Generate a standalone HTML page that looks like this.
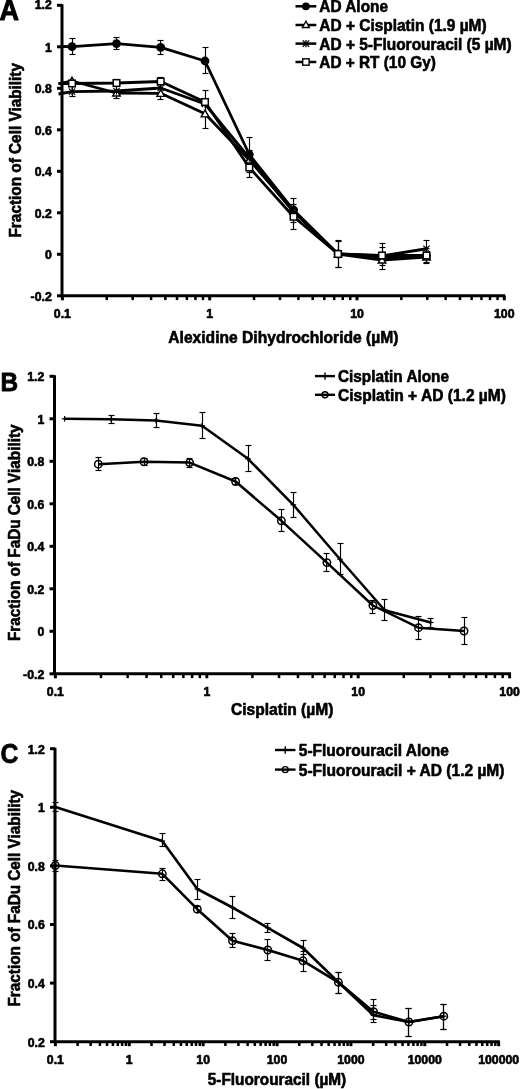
<!DOCTYPE html>
<html lang="en"><head><meta charset="utf-8"><title>Figure</title>
<style>
html,body{margin:0;padding:0;background:#fff;}
body{width:520px;height:1089px;overflow:hidden;}
svg{display:block;}
text{font-family:"Liberation Sans",Arial,Helvetica,sans-serif;font-weight:bold;fill:#000;stroke:#000;stroke-width:0.6px;stroke-linejoin:round;}
</style></head><body>
<svg width="520" height="1089" viewBox="0 0 520 1089">
<rect width="520" height="1089" fill="#fff"/>
<g stroke="#000" fill="none" stroke-linecap="butt">
<line x1="62.00" y1="4.30" x2="62.00" y2="296.80" stroke-width="3.0" />
<line x1="61.00" y1="295.80" x2="505.30" y2="295.80" stroke-width="3.0" />
<line x1="57.00" y1="5.30" x2="62.00" y2="5.30" stroke-width="3.0" />
<line x1="57.00" y1="46.80" x2="62.00" y2="46.80" stroke-width="3.0" />
<line x1="57.00" y1="88.30" x2="62.00" y2="88.30" stroke-width="3.0" />
<line x1="57.00" y1="129.80" x2="62.00" y2="129.80" stroke-width="3.0" />
<line x1="57.00" y1="171.30" x2="62.00" y2="171.30" stroke-width="3.0" />
<line x1="57.00" y1="212.80" x2="62.00" y2="212.80" stroke-width="3.0" />
<line x1="57.00" y1="254.30" x2="62.00" y2="254.30" stroke-width="3.0" />
<line x1="57.00" y1="295.80" x2="62.00" y2="295.80" stroke-width="3.0" />
<line x1="62.40" y1="295.80" x2="62.40" y2="300.30" stroke-width="3.0" />
<line x1="106.74" y1="295.80" x2="106.74" y2="300.10" stroke-width="2.5" />
<line x1="132.68" y1="295.80" x2="132.68" y2="300.10" stroke-width="2.5" />
<line x1="151.08" y1="295.80" x2="151.08" y2="300.10" stroke-width="2.5" />
<line x1="165.36" y1="295.80" x2="165.36" y2="300.10" stroke-width="2.5" />
<line x1="177.02" y1="295.80" x2="177.02" y2="300.10" stroke-width="2.5" />
<line x1="186.88" y1="295.80" x2="186.88" y2="300.10" stroke-width="2.5" />
<line x1="195.43" y1="295.80" x2="195.43" y2="300.10" stroke-width="2.5" />
<line x1="202.96" y1="295.80" x2="202.96" y2="300.10" stroke-width="2.5" />
<line x1="209.70" y1="295.80" x2="209.70" y2="300.30" stroke-width="3.0" />
<line x1="254.04" y1="295.80" x2="254.04" y2="300.10" stroke-width="2.5" />
<line x1="279.98" y1="295.80" x2="279.98" y2="300.10" stroke-width="2.5" />
<line x1="298.38" y1="295.80" x2="298.38" y2="300.10" stroke-width="2.5" />
<line x1="312.66" y1="295.80" x2="312.66" y2="300.10" stroke-width="2.5" />
<line x1="324.32" y1="295.80" x2="324.32" y2="300.10" stroke-width="2.5" />
<line x1="334.18" y1="295.80" x2="334.18" y2="300.10" stroke-width="2.5" />
<line x1="342.73" y1="295.80" x2="342.73" y2="300.10" stroke-width="2.5" />
<line x1="350.26" y1="295.80" x2="350.26" y2="300.10" stroke-width="2.5" />
<line x1="357.00" y1="295.80" x2="357.00" y2="300.30" stroke-width="3.0" />
<line x1="401.34" y1="295.80" x2="401.34" y2="300.10" stroke-width="2.5" />
<line x1="427.28" y1="295.80" x2="427.28" y2="300.10" stroke-width="2.5" />
<line x1="445.68" y1="295.80" x2="445.68" y2="300.10" stroke-width="2.5" />
<line x1="459.96" y1="295.80" x2="459.96" y2="300.10" stroke-width="2.5" />
<line x1="471.62" y1="295.80" x2="471.62" y2="300.10" stroke-width="2.5" />
<line x1="481.48" y1="295.80" x2="481.48" y2="300.10" stroke-width="2.5" />
<line x1="490.03" y1="295.80" x2="490.03" y2="300.10" stroke-width="2.5" />
<line x1="497.56" y1="295.80" x2="497.56" y2="300.10" stroke-width="2.5" />
<line x1="504.30" y1="295.80" x2="504.30" y2="300.30" stroke-width="3.0" />
<line x1="72.50" y1="38.50" x2="72.50" y2="54.50" stroke-width="1.15" />
<line x1="69.50" y1="38.50" x2="75.50" y2="38.50" stroke-width="1.15" />
<line x1="69.50" y1="54.50" x2="75.50" y2="54.50" stroke-width="1.15" />
<line x1="116.50" y1="37.50" x2="116.50" y2="49.50" stroke-width="1.15" />
<line x1="113.50" y1="37.50" x2="119.50" y2="37.50" stroke-width="1.15" />
<line x1="113.50" y1="49.50" x2="119.50" y2="49.50" stroke-width="1.15" />
<line x1="160.50" y1="40.50" x2="160.50" y2="54.50" stroke-width="1.15" />
<line x1="157.50" y1="40.50" x2="163.50" y2="40.50" stroke-width="1.15" />
<line x1="157.50" y1="54.50" x2="163.50" y2="54.50" stroke-width="1.15" />
<line x1="205.50" y1="47.50" x2="205.50" y2="73.50" stroke-width="1.15" />
<line x1="202.50" y1="47.50" x2="208.50" y2="47.50" stroke-width="1.15" />
<line x1="202.50" y1="73.50" x2="208.50" y2="73.50" stroke-width="1.15" />
<line x1="249.50" y1="137.50" x2="249.50" y2="172.50" stroke-width="1.15" />
<line x1="246.50" y1="137.50" x2="252.50" y2="137.50" stroke-width="1.15" />
<line x1="246.50" y1="172.50" x2="252.50" y2="172.50" stroke-width="1.15" />
<line x1="293.50" y1="198.50" x2="293.50" y2="222.50" stroke-width="1.15" />
<line x1="290.50" y1="198.50" x2="296.50" y2="198.50" stroke-width="1.15" />
<line x1="290.50" y1="222.50" x2="296.50" y2="222.50" stroke-width="1.15" />
<line x1="338.50" y1="241.50" x2="338.50" y2="267.50" stroke-width="1.15" />
<line x1="335.50" y1="241.50" x2="341.50" y2="241.50" stroke-width="1.15" />
<line x1="335.50" y1="267.50" x2="341.50" y2="267.50" stroke-width="1.15" />
<line x1="382.50" y1="247.50" x2="382.50" y2="265.50" stroke-width="1.15" />
<line x1="379.50" y1="247.50" x2="385.50" y2="247.50" stroke-width="1.15" />
<line x1="379.50" y1="265.50" x2="385.50" y2="265.50" stroke-width="1.15" />
<line x1="426.50" y1="248.50" x2="426.50" y2="263.50" stroke-width="1.15" />
<line x1="423.50" y1="248.50" x2="429.50" y2="248.50" stroke-width="1.15" />
<line x1="423.50" y1="263.50" x2="429.50" y2="263.50" stroke-width="1.15" />
<line x1="72.50" y1="80.50" x2="72.50" y2="96.50" stroke-width="1.15" />
<line x1="69.50" y1="80.50" x2="75.50" y2="80.50" stroke-width="1.15" />
<line x1="69.50" y1="96.50" x2="75.50" y2="96.50" stroke-width="1.15" />
<line x1="116.50" y1="79.50" x2="116.50" y2="98.50" stroke-width="1.15" />
<line x1="113.50" y1="79.50" x2="119.50" y2="79.50" stroke-width="1.15" />
<line x1="113.50" y1="98.50" x2="119.50" y2="98.50" stroke-width="1.15" />
<line x1="160.50" y1="77.50" x2="160.50" y2="99.50" stroke-width="1.15" />
<line x1="157.50" y1="77.50" x2="163.50" y2="77.50" stroke-width="1.15" />
<line x1="157.50" y1="99.50" x2="163.50" y2="99.50" stroke-width="1.15" />
<line x1="205.50" y1="90.50" x2="205.50" y2="128.50" stroke-width="1.15" />
<line x1="202.50" y1="90.50" x2="208.50" y2="90.50" stroke-width="1.15" />
<line x1="202.50" y1="128.50" x2="208.50" y2="128.50" stroke-width="1.15" />
<line x1="249.50" y1="150.50" x2="249.50" y2="177.50" stroke-width="1.15" />
<line x1="246.50" y1="150.50" x2="252.50" y2="150.50" stroke-width="1.15" />
<line x1="246.50" y1="177.50" x2="252.50" y2="177.50" stroke-width="1.15" />
<line x1="293.50" y1="204.50" x2="293.50" y2="229.50" stroke-width="1.15" />
<line x1="290.50" y1="204.50" x2="296.50" y2="204.50" stroke-width="1.15" />
<line x1="290.50" y1="229.50" x2="296.50" y2="229.50" stroke-width="1.15" />
<line x1="338.50" y1="240.50" x2="338.50" y2="267.50" stroke-width="1.15" />
<line x1="335.50" y1="240.50" x2="341.50" y2="240.50" stroke-width="1.15" />
<line x1="335.50" y1="267.50" x2="341.50" y2="267.50" stroke-width="1.15" />
<line x1="382.50" y1="243.50" x2="382.50" y2="269.50" stroke-width="1.15" />
<line x1="379.50" y1="243.50" x2="385.50" y2="243.50" stroke-width="1.15" />
<line x1="379.50" y1="269.50" x2="385.50" y2="269.50" stroke-width="1.15" />
<line x1="426.50" y1="240.50" x2="426.50" y2="262.50" stroke-width="1.15" />
<line x1="423.50" y1="240.50" x2="429.50" y2="240.50" stroke-width="1.15" />
<line x1="423.50" y1="262.50" x2="429.50" y2="262.50" stroke-width="1.15" />
<polyline fill="none" stroke-linejoin="round" stroke-width="2.8" points="62.00,46.50 72.00,46.70 116.50,43.60 160.70,47.40 205.00,61.00 249.30,154.50 293.60,210.00 338.00,254.00 382.00,257.00 426.50,256.00"/>
<circle cx="72.00" cy="46.70" r="4.4" fill="#000" stroke="none"/>
<circle cx="116.50" cy="43.60" r="4.4" fill="#000" stroke="none"/>
<circle cx="160.70" cy="47.40" r="4.4" fill="#000" stroke="none"/>
<circle cx="205.00" cy="61.00" r="4.4" fill="#000" stroke="none"/>
<circle cx="249.30" cy="154.50" r="4.4" fill="#000" stroke="none"/>
<circle cx="293.60" cy="210.00" r="4.4" fill="#000" stroke="none"/>
<circle cx="338.00" cy="254.00" r="4.4" fill="#000" stroke="none"/>
<circle cx="382.00" cy="257.00" r="4.4" fill="#000" stroke="none"/>
<circle cx="426.50" cy="256.00" r="4.4" fill="#000" stroke="none"/>
<polyline fill="none" stroke-linejoin="round" stroke-width="2.8" points="58.50,83.70 72.00,81.00 116.50,93.00 160.70,93.30 205.00,113.80 249.30,160.00 293.60,211.00 338.00,254.00 382.00,260.00 426.50,257.00"/>
<polygon points="72.00,77.20 68.20,84.04 75.80,84.04" fill="#fff" stroke-width="1.4"/>
<polygon points="116.50,89.20 112.70,96.04 120.30,96.04" fill="#fff" stroke-width="1.4"/>
<polygon points="160.70,89.50 156.90,96.34 164.50,96.34" fill="#fff" stroke-width="1.4"/>
<polygon points="205.00,110.00 201.20,116.84 208.80,116.84" fill="#fff" stroke-width="1.4"/>
<polygon points="249.30,156.20 245.50,163.04 253.10,163.04" fill="#fff" stroke-width="1.4"/>
<polygon points="293.60,207.20 289.80,214.04 297.40,214.04" fill="#fff" stroke-width="1.4"/>
<polygon points="338.00,250.20 334.20,257.04 341.80,257.04" fill="#fff" stroke-width="1.4"/>
<polygon points="382.00,256.20 378.20,263.04 385.80,263.04" fill="#fff" stroke-width="1.4"/>
<polygon points="426.50,253.20 422.70,260.04 430.30,260.04" fill="#fff" stroke-width="1.4"/>
<polyline fill="none" stroke-linejoin="round" stroke-width="2.8" points="58.50,94.00 72.00,91.60 116.50,91.00 160.70,88.00 205.00,104.00 249.30,158.00 293.60,212.00 338.00,254.00 382.00,256.00 426.50,248.75"/>
<line x1="68.80" y1="88.40" x2="75.20" y2="94.80" stroke-width="1.1" />
<line x1="68.80" y1="94.80" x2="75.20" y2="88.40" stroke-width="1.1" />
<line x1="72.00" y1="87.90" x2="72.00" y2="95.30" stroke-width="1.1" />
<line x1="113.30" y1="87.80" x2="119.70" y2="94.20" stroke-width="1.1" />
<line x1="113.30" y1="94.20" x2="119.70" y2="87.80" stroke-width="1.1" />
<line x1="116.50" y1="87.30" x2="116.50" y2="94.70" stroke-width="1.1" />
<line x1="157.50" y1="84.80" x2="163.90" y2="91.20" stroke-width="1.1" />
<line x1="157.50" y1="91.20" x2="163.90" y2="84.80" stroke-width="1.1" />
<line x1="160.70" y1="84.30" x2="160.70" y2="91.70" stroke-width="1.1" />
<line x1="201.80" y1="100.80" x2="208.20" y2="107.20" stroke-width="1.1" />
<line x1="201.80" y1="107.20" x2="208.20" y2="100.80" stroke-width="1.1" />
<line x1="205.00" y1="100.30" x2="205.00" y2="107.70" stroke-width="1.1" />
<line x1="246.10" y1="154.80" x2="252.50" y2="161.20" stroke-width="1.1" />
<line x1="246.10" y1="161.20" x2="252.50" y2="154.80" stroke-width="1.1" />
<line x1="249.30" y1="154.30" x2="249.30" y2="161.70" stroke-width="1.1" />
<line x1="290.40" y1="208.80" x2="296.80" y2="215.20" stroke-width="1.1" />
<line x1="290.40" y1="215.20" x2="296.80" y2="208.80" stroke-width="1.1" />
<line x1="293.60" y1="208.30" x2="293.60" y2="215.70" stroke-width="1.1" />
<line x1="334.80" y1="250.80" x2="341.20" y2="257.20" stroke-width="1.1" />
<line x1="334.80" y1="257.20" x2="341.20" y2="250.80" stroke-width="1.1" />
<line x1="338.00" y1="250.30" x2="338.00" y2="257.70" stroke-width="1.1" />
<line x1="378.80" y1="252.80" x2="385.20" y2="259.20" stroke-width="1.1" />
<line x1="378.80" y1="259.20" x2="385.20" y2="252.80" stroke-width="1.1" />
<line x1="382.00" y1="252.30" x2="382.00" y2="259.70" stroke-width="1.1" />
<line x1="423.30" y1="245.55" x2="429.70" y2="251.95" stroke-width="1.1" />
<line x1="423.30" y1="251.95" x2="429.70" y2="245.55" stroke-width="1.1" />
<line x1="426.50" y1="245.05" x2="426.50" y2="252.45" stroke-width="1.1" />
<polyline fill="none" stroke-linejoin="round" stroke-width="2.8" points="58.50,83.70 72.00,83.50 116.50,83.00 160.70,81.50 205.00,102.00 249.30,167.50 293.60,216.75 338.00,254.00 382.00,255.50 426.50,255.50"/>
<rect x="68.70" y="80.20" width="6.6" height="6.6" fill="#fff" stroke-width="1.5"/>
<rect x="113.20" y="79.70" width="6.6" height="6.6" fill="#fff" stroke-width="1.5"/>
<rect x="157.40" y="78.20" width="6.6" height="6.6" fill="#fff" stroke-width="1.5"/>
<rect x="201.70" y="98.70" width="6.6" height="6.6" fill="#fff" stroke-width="1.5"/>
<rect x="246.00" y="164.20" width="6.6" height="6.6" fill="#fff" stroke-width="1.5"/>
<rect x="290.30" y="213.45" width="6.6" height="6.6" fill="#fff" stroke-width="1.5"/>
<rect x="334.70" y="250.70" width="6.6" height="6.6" fill="#fff" stroke-width="1.5"/>
<rect x="378.70" y="252.20" width="6.6" height="6.6" fill="#fff" stroke-width="1.5"/>
<rect x="423.20" y="252.20" width="6.6" height="6.6" fill="#fff" stroke-width="1.5"/>
<line x1="295.50" y1="6.30" x2="316.30" y2="6.30" stroke-width="2.5" />
<line x1="295.50" y1="25.00" x2="316.30" y2="25.00" stroke-width="2.5" />
<line x1="295.50" y1="43.60" x2="316.30" y2="43.60" stroke-width="2.5" />
<line x1="295.50" y1="62.00" x2="316.30" y2="62.00" stroke-width="2.5" />
<circle cx="305.90" cy="6.30" r="3.9" fill="#000" stroke="none"/>
<polygon points="305.90,21.20 302.40,27.50 309.40,27.50" fill="#fff" stroke-width="1.3"/>
<line x1="302.70" y1="40.40" x2="309.10" y2="46.80" stroke-width="1.3" />
<line x1="302.70" y1="46.80" x2="309.10" y2="40.40" stroke-width="1.3" />
<line x1="305.90" y1="39.90" x2="305.90" y2="47.30" stroke-width="1.3" />
<rect x="302.70" y="58.80" width="6.4" height="6.4" fill="#fff" stroke-width="1.4"/>
<line x1="54.50" y1="375.30" x2="54.50" y2="674.80" stroke-width="3.0" />
<line x1="53.50" y1="673.80" x2="511.00" y2="673.80" stroke-width="3.0" />
<line x1="49.50" y1="376.30" x2="54.50" y2="376.30" stroke-width="3.0" />
<line x1="49.50" y1="418.80" x2="54.50" y2="418.80" stroke-width="3.0" />
<line x1="49.50" y1="461.30" x2="54.50" y2="461.30" stroke-width="3.0" />
<line x1="49.50" y1="503.80" x2="54.50" y2="503.80" stroke-width="3.0" />
<line x1="49.50" y1="546.30" x2="54.50" y2="546.30" stroke-width="3.0" />
<line x1="49.50" y1="588.80" x2="54.50" y2="588.80" stroke-width="3.0" />
<line x1="49.50" y1="631.30" x2="54.50" y2="631.30" stroke-width="3.0" />
<line x1="49.50" y1="673.80" x2="54.50" y2="673.80" stroke-width="3.0" />
<line x1="55.40" y1="673.80" x2="55.40" y2="678.30" stroke-width="3.0" />
<line x1="100.98" y1="673.80" x2="100.98" y2="678.10" stroke-width="2.5" />
<line x1="127.64" y1="673.80" x2="127.64" y2="678.10" stroke-width="2.5" />
<line x1="146.55" y1="673.80" x2="146.55" y2="678.10" stroke-width="2.5" />
<line x1="161.22" y1="673.80" x2="161.22" y2="678.10" stroke-width="2.5" />
<line x1="173.21" y1="673.80" x2="173.21" y2="678.10" stroke-width="2.5" />
<line x1="183.35" y1="673.80" x2="183.35" y2="678.10" stroke-width="2.5" />
<line x1="192.13" y1="673.80" x2="192.13" y2="678.10" stroke-width="2.5" />
<line x1="199.87" y1="673.80" x2="199.87" y2="678.10" stroke-width="2.5" />
<line x1="206.80" y1="673.80" x2="206.80" y2="678.30" stroke-width="3.0" />
<line x1="252.38" y1="673.80" x2="252.38" y2="678.10" stroke-width="2.5" />
<line x1="279.04" y1="673.80" x2="279.04" y2="678.10" stroke-width="2.5" />
<line x1="297.95" y1="673.80" x2="297.95" y2="678.10" stroke-width="2.5" />
<line x1="312.62" y1="673.80" x2="312.62" y2="678.10" stroke-width="2.5" />
<line x1="324.61" y1="673.80" x2="324.61" y2="678.10" stroke-width="2.5" />
<line x1="334.75" y1="673.80" x2="334.75" y2="678.10" stroke-width="2.5" />
<line x1="343.53" y1="673.80" x2="343.53" y2="678.10" stroke-width="2.5" />
<line x1="351.27" y1="673.80" x2="351.27" y2="678.10" stroke-width="2.5" />
<line x1="358.20" y1="673.80" x2="358.20" y2="678.30" stroke-width="3.0" />
<line x1="403.78" y1="673.80" x2="403.78" y2="678.10" stroke-width="2.5" />
<line x1="430.44" y1="673.80" x2="430.44" y2="678.10" stroke-width="2.5" />
<line x1="449.35" y1="673.80" x2="449.35" y2="678.10" stroke-width="2.5" />
<line x1="464.02" y1="673.80" x2="464.02" y2="678.10" stroke-width="2.5" />
<line x1="476.01" y1="673.80" x2="476.01" y2="678.10" stroke-width="2.5" />
<line x1="486.15" y1="673.80" x2="486.15" y2="678.10" stroke-width="2.5" />
<line x1="494.93" y1="673.80" x2="494.93" y2="678.10" stroke-width="2.5" />
<line x1="502.67" y1="673.80" x2="502.67" y2="678.10" stroke-width="2.5" />
<line x1="509.60" y1="673.80" x2="509.60" y2="678.30" stroke-width="3.0" />
<line x1="111.50" y1="415.50" x2="111.50" y2="423.50" stroke-width="1.15" />
<line x1="108.50" y1="415.50" x2="114.50" y2="415.50" stroke-width="1.15" />
<line x1="108.50" y1="423.50" x2="114.50" y2="423.50" stroke-width="1.15" />
<line x1="156.50" y1="413.50" x2="156.50" y2="427.50" stroke-width="1.15" />
<line x1="153.50" y1="413.50" x2="159.50" y2="413.50" stroke-width="1.15" />
<line x1="153.50" y1="427.50" x2="159.50" y2="427.50" stroke-width="1.15" />
<line x1="202.50" y1="412.50" x2="202.50" y2="438.50" stroke-width="1.15" />
<line x1="199.50" y1="412.50" x2="205.50" y2="412.50" stroke-width="1.15" />
<line x1="199.50" y1="438.50" x2="205.50" y2="438.50" stroke-width="1.15" />
<line x1="248.50" y1="445.50" x2="248.50" y2="471.50" stroke-width="1.15" />
<line x1="245.50" y1="445.50" x2="251.50" y2="445.50" stroke-width="1.15" />
<line x1="245.50" y1="471.50" x2="251.50" y2="471.50" stroke-width="1.15" />
<line x1="293.50" y1="492.50" x2="293.50" y2="517.50" stroke-width="1.15" />
<line x1="290.50" y1="492.50" x2="296.50" y2="492.50" stroke-width="1.15" />
<line x1="290.50" y1="517.50" x2="296.50" y2="517.50" stroke-width="1.15" />
<line x1="340.50" y1="543.50" x2="340.50" y2="574.50" stroke-width="1.15" />
<line x1="337.50" y1="543.50" x2="343.50" y2="543.50" stroke-width="1.15" />
<line x1="337.50" y1="574.50" x2="343.50" y2="574.50" stroke-width="1.15" />
<line x1="384.50" y1="599.50" x2="384.50" y2="620.50" stroke-width="1.15" />
<line x1="381.50" y1="599.50" x2="387.50" y2="599.50" stroke-width="1.15" />
<line x1="381.50" y1="620.50" x2="387.50" y2="620.50" stroke-width="1.15" />
<line x1="430.50" y1="618.50" x2="430.50" y2="627.50" stroke-width="1.15" />
<line x1="427.50" y1="618.50" x2="433.50" y2="618.50" stroke-width="1.15" />
<line x1="427.50" y1="627.50" x2="433.50" y2="627.50" stroke-width="1.15" />
<line x1="98.50" y1="457.50" x2="98.50" y2="470.50" stroke-width="1.15" />
<line x1="95.50" y1="457.50" x2="101.50" y2="457.50" stroke-width="1.15" />
<line x1="95.50" y1="470.50" x2="101.50" y2="470.50" stroke-width="1.15" />
<line x1="144.50" y1="458.50" x2="144.50" y2="465.50" stroke-width="1.15" />
<line x1="141.50" y1="458.50" x2="147.50" y2="458.50" stroke-width="1.15" />
<line x1="141.50" y1="465.50" x2="147.50" y2="465.50" stroke-width="1.15" />
<line x1="189.50" y1="458.50" x2="189.50" y2="467.50" stroke-width="1.15" />
<line x1="186.50" y1="458.50" x2="192.50" y2="458.50" stroke-width="1.15" />
<line x1="186.50" y1="467.50" x2="192.50" y2="467.50" stroke-width="1.15" />
<line x1="235.50" y1="478.50" x2="235.50" y2="484.50" stroke-width="1.15" />
<line x1="232.50" y1="478.50" x2="238.50" y2="478.50" stroke-width="1.15" />
<line x1="232.50" y1="484.50" x2="238.50" y2="484.50" stroke-width="1.15" />
<line x1="281.50" y1="509.50" x2="281.50" y2="531.50" stroke-width="1.15" />
<line x1="278.50" y1="509.50" x2="284.50" y2="509.50" stroke-width="1.15" />
<line x1="278.50" y1="531.50" x2="284.50" y2="531.50" stroke-width="1.15" />
<line x1="326.50" y1="553.50" x2="326.50" y2="571.50" stroke-width="1.15" />
<line x1="323.50" y1="553.50" x2="329.50" y2="553.50" stroke-width="1.15" />
<line x1="323.50" y1="571.50" x2="329.50" y2="571.50" stroke-width="1.15" />
<line x1="372.50" y1="600.50" x2="372.50" y2="613.50" stroke-width="1.15" />
<line x1="369.50" y1="600.50" x2="375.50" y2="600.50" stroke-width="1.15" />
<line x1="369.50" y1="613.50" x2="375.50" y2="613.50" stroke-width="1.15" />
<line x1="418.50" y1="616.50" x2="418.50" y2="639.50" stroke-width="1.15" />
<line x1="415.50" y1="616.50" x2="421.50" y2="616.50" stroke-width="1.15" />
<line x1="415.50" y1="639.50" x2="421.50" y2="639.50" stroke-width="1.15" />
<line x1="464.50" y1="617.50" x2="464.50" y2="644.50" stroke-width="1.15" />
<line x1="461.50" y1="617.50" x2="467.50" y2="617.50" stroke-width="1.15" />
<line x1="461.50" y1="644.50" x2="467.50" y2="644.50" stroke-width="1.15" />
<polyline fill="none" stroke-linejoin="round" stroke-width="2.5" points="64.60,418.80 111.00,419.20 156.00,420.50 202.00,425.70 248.00,458.80 293.30,504.80 340.00,559.20 384.70,610.20 430.80,622.50"/>
<polyline fill="none" stroke-linejoin="round" stroke-width="2.5" points="98.30,464.20 144.00,461.70 189.60,462.60 235.60,481.50 281.40,520.80 326.90,562.60 372.90,605.50 418.50,627.70 464.00,631.00"/>
<line x1="64.60" y1="416.00" x2="64.60" y2="421.60" stroke-width="1.2" />
<line x1="61.80" y1="418.80" x2="67.40" y2="418.80" stroke-width="1.2" />
<line x1="111.00" y1="416.40" x2="111.00" y2="422.00" stroke-width="1.2" />
<line x1="108.20" y1="419.20" x2="113.80" y2="419.20" stroke-width="1.2" />
<line x1="156.00" y1="417.70" x2="156.00" y2="423.30" stroke-width="1.2" />
<line x1="153.20" y1="420.50" x2="158.80" y2="420.50" stroke-width="1.2" />
<line x1="202.00" y1="422.90" x2="202.00" y2="428.50" stroke-width="1.2" />
<line x1="199.20" y1="425.70" x2="204.80" y2="425.70" stroke-width="1.2" />
<line x1="248.00" y1="456.00" x2="248.00" y2="461.60" stroke-width="1.2" />
<line x1="245.20" y1="458.80" x2="250.80" y2="458.80" stroke-width="1.2" />
<line x1="293.30" y1="502.00" x2="293.30" y2="507.60" stroke-width="1.2" />
<line x1="290.50" y1="504.80" x2="296.10" y2="504.80" stroke-width="1.2" />
<line x1="340.00" y1="556.40" x2="340.00" y2="562.00" stroke-width="1.2" />
<line x1="337.20" y1="559.20" x2="342.80" y2="559.20" stroke-width="1.2" />
<line x1="384.70" y1="607.40" x2="384.70" y2="613.00" stroke-width="1.2" />
<line x1="381.90" y1="610.20" x2="387.50" y2="610.20" stroke-width="1.2" />
<line x1="430.80" y1="619.70" x2="430.80" y2="625.30" stroke-width="1.2" />
<line x1="428.00" y1="622.50" x2="433.60" y2="622.50" stroke-width="1.2" />
<circle cx="98.30" cy="464.20" r="3.7" fill="none" stroke-width="1.5"/>
<circle cx="144.00" cy="461.70" r="3.7" fill="none" stroke-width="1.5"/>
<circle cx="189.60" cy="462.60" r="3.7" fill="none" stroke-width="1.5"/>
<circle cx="235.60" cy="481.50" r="3.7" fill="none" stroke-width="1.5"/>
<circle cx="281.40" cy="520.80" r="3.7" fill="none" stroke-width="1.5"/>
<circle cx="326.90" cy="562.60" r="3.7" fill="none" stroke-width="1.5"/>
<circle cx="372.90" cy="605.50" r="3.7" fill="none" stroke-width="1.5"/>
<circle cx="418.50" cy="627.70" r="3.7" fill="none" stroke-width="1.5"/>
<circle cx="464.00" cy="631.00" r="3.7" fill="none" stroke-width="1.5"/>
<line x1="315.00" y1="376.10" x2="335.00" y2="376.10" stroke-width="2.4" />
<line x1="315.00" y1="394.80" x2="335.00" y2="394.80" stroke-width="2.4" />
<line x1="325.00" y1="372.40" x2="325.00" y2="379.80" stroke-width="1.4" />
<line x1="321.30" y1="376.10" x2="328.70" y2="376.10" stroke-width="1.4" />
<circle cx="325.00" cy="394.80" r="3.0" fill="none" stroke-width="1.4"/>
<line x1="55.00" y1="747.70" x2="55.00" y2="1042.70" stroke-width="3.0" />
<line x1="54.00" y1="1041.70" x2="499.80" y2="1041.70" stroke-width="3.0" />
<line x1="50.00" y1="748.70" x2="55.00" y2="748.70" stroke-width="3.0" />
<line x1="50.00" y1="807.30" x2="55.00" y2="807.30" stroke-width="3.0" />
<line x1="50.00" y1="865.90" x2="55.00" y2="865.90" stroke-width="3.0" />
<line x1="50.00" y1="924.50" x2="55.00" y2="924.50" stroke-width="3.0" />
<line x1="50.00" y1="983.10" x2="55.00" y2="983.10" stroke-width="3.0" />
<line x1="50.00" y1="1041.70" x2="55.00" y2="1041.70" stroke-width="3.0" />
<line x1="55.40" y1="1041.70" x2="55.40" y2="1046.20" stroke-width="3.0" />
<line x1="77.64" y1="1041.70" x2="77.64" y2="1046.00" stroke-width="2.5" />
<line x1="90.65" y1="1041.70" x2="90.65" y2="1046.00" stroke-width="2.5" />
<line x1="99.88" y1="1041.70" x2="99.88" y2="1046.00" stroke-width="2.5" />
<line x1="107.04" y1="1041.70" x2="107.04" y2="1046.00" stroke-width="2.5" />
<line x1="112.89" y1="1041.70" x2="112.89" y2="1046.00" stroke-width="2.5" />
<line x1="117.84" y1="1041.70" x2="117.84" y2="1046.00" stroke-width="2.5" />
<line x1="122.12" y1="1041.70" x2="122.12" y2="1046.00" stroke-width="2.5" />
<line x1="125.90" y1="1041.70" x2="125.90" y2="1046.00" stroke-width="2.5" />
<line x1="129.28" y1="1041.70" x2="129.28" y2="1046.20" stroke-width="3.0" />
<line x1="151.52" y1="1041.70" x2="151.52" y2="1046.00" stroke-width="2.5" />
<line x1="164.53" y1="1041.70" x2="164.53" y2="1046.00" stroke-width="2.5" />
<line x1="173.76" y1="1041.70" x2="173.76" y2="1046.00" stroke-width="2.5" />
<line x1="180.92" y1="1041.70" x2="180.92" y2="1046.00" stroke-width="2.5" />
<line x1="186.77" y1="1041.70" x2="186.77" y2="1046.00" stroke-width="2.5" />
<line x1="191.72" y1="1041.70" x2="191.72" y2="1046.00" stroke-width="2.5" />
<line x1="196.00" y1="1041.70" x2="196.00" y2="1046.00" stroke-width="2.5" />
<line x1="199.78" y1="1041.70" x2="199.78" y2="1046.00" stroke-width="2.5" />
<line x1="203.16" y1="1041.70" x2="203.16" y2="1046.20" stroke-width="3.0" />
<line x1="225.40" y1="1041.70" x2="225.40" y2="1046.00" stroke-width="2.5" />
<line x1="238.41" y1="1041.70" x2="238.41" y2="1046.00" stroke-width="2.5" />
<line x1="247.64" y1="1041.70" x2="247.64" y2="1046.00" stroke-width="2.5" />
<line x1="254.80" y1="1041.70" x2="254.80" y2="1046.00" stroke-width="2.5" />
<line x1="260.65" y1="1041.70" x2="260.65" y2="1046.00" stroke-width="2.5" />
<line x1="265.60" y1="1041.70" x2="265.60" y2="1046.00" stroke-width="2.5" />
<line x1="269.88" y1="1041.70" x2="269.88" y2="1046.00" stroke-width="2.5" />
<line x1="273.66" y1="1041.70" x2="273.66" y2="1046.00" stroke-width="2.5" />
<line x1="277.04" y1="1041.70" x2="277.04" y2="1046.20" stroke-width="3.0" />
<line x1="299.28" y1="1041.70" x2="299.28" y2="1046.00" stroke-width="2.5" />
<line x1="312.29" y1="1041.70" x2="312.29" y2="1046.00" stroke-width="2.5" />
<line x1="321.52" y1="1041.70" x2="321.52" y2="1046.00" stroke-width="2.5" />
<line x1="328.68" y1="1041.70" x2="328.68" y2="1046.00" stroke-width="2.5" />
<line x1="334.53" y1="1041.70" x2="334.53" y2="1046.00" stroke-width="2.5" />
<line x1="339.48" y1="1041.70" x2="339.48" y2="1046.00" stroke-width="2.5" />
<line x1="343.76" y1="1041.70" x2="343.76" y2="1046.00" stroke-width="2.5" />
<line x1="347.54" y1="1041.70" x2="347.54" y2="1046.00" stroke-width="2.5" />
<line x1="350.92" y1="1041.70" x2="350.92" y2="1046.20" stroke-width="3.0" />
<line x1="373.16" y1="1041.70" x2="373.16" y2="1046.00" stroke-width="2.5" />
<line x1="386.17" y1="1041.70" x2="386.17" y2="1046.00" stroke-width="2.5" />
<line x1="395.40" y1="1041.70" x2="395.40" y2="1046.00" stroke-width="2.5" />
<line x1="402.56" y1="1041.70" x2="402.56" y2="1046.00" stroke-width="2.5" />
<line x1="408.41" y1="1041.70" x2="408.41" y2="1046.00" stroke-width="2.5" />
<line x1="413.36" y1="1041.70" x2="413.36" y2="1046.00" stroke-width="2.5" />
<line x1="417.64" y1="1041.70" x2="417.64" y2="1046.00" stroke-width="2.5" />
<line x1="421.42" y1="1041.70" x2="421.42" y2="1046.00" stroke-width="2.5" />
<line x1="424.80" y1="1041.70" x2="424.80" y2="1046.20" stroke-width="3.0" />
<line x1="447.04" y1="1041.70" x2="447.04" y2="1046.00" stroke-width="2.5" />
<line x1="460.05" y1="1041.70" x2="460.05" y2="1046.00" stroke-width="2.5" />
<line x1="469.28" y1="1041.70" x2="469.28" y2="1046.00" stroke-width="2.5" />
<line x1="476.44" y1="1041.70" x2="476.44" y2="1046.00" stroke-width="2.5" />
<line x1="482.29" y1="1041.70" x2="482.29" y2="1046.00" stroke-width="2.5" />
<line x1="487.24" y1="1041.70" x2="487.24" y2="1046.00" stroke-width="2.5" />
<line x1="491.52" y1="1041.70" x2="491.52" y2="1046.00" stroke-width="2.5" />
<line x1="495.30" y1="1041.70" x2="495.30" y2="1046.00" stroke-width="2.5" />
<line x1="498.68" y1="1041.70" x2="498.68" y2="1046.20" stroke-width="3.0" />
<line x1="55.50" y1="802.50" x2="55.50" y2="811.50" stroke-width="1.15" />
<line x1="52.50" y1="802.50" x2="58.50" y2="802.50" stroke-width="1.15" />
<line x1="52.50" y1="811.50" x2="58.50" y2="811.50" stroke-width="1.15" />
<line x1="162.50" y1="833.50" x2="162.50" y2="846.50" stroke-width="1.15" />
<line x1="159.50" y1="833.50" x2="165.50" y2="833.50" stroke-width="1.15" />
<line x1="159.50" y1="846.50" x2="165.50" y2="846.50" stroke-width="1.15" />
<line x1="197.50" y1="879.50" x2="197.50" y2="899.50" stroke-width="1.15" />
<line x1="194.50" y1="879.50" x2="200.50" y2="879.50" stroke-width="1.15" />
<line x1="194.50" y1="899.50" x2="200.50" y2="899.50" stroke-width="1.15" />
<line x1="232.50" y1="896.50" x2="232.50" y2="918.50" stroke-width="1.15" />
<line x1="229.50" y1="896.50" x2="235.50" y2="896.50" stroke-width="1.15" />
<line x1="229.50" y1="918.50" x2="235.50" y2="918.50" stroke-width="1.15" />
<line x1="267.50" y1="923.50" x2="267.50" y2="932.50" stroke-width="1.15" />
<line x1="264.50" y1="923.50" x2="270.50" y2="923.50" stroke-width="1.15" />
<line x1="264.50" y1="932.50" x2="270.50" y2="932.50" stroke-width="1.15" />
<line x1="303.50" y1="940.50" x2="303.50" y2="954.50" stroke-width="1.15" />
<line x1="300.50" y1="940.50" x2="306.50" y2="940.50" stroke-width="1.15" />
<line x1="300.50" y1="954.50" x2="306.50" y2="954.50" stroke-width="1.15" />
<line x1="338.50" y1="972.50" x2="338.50" y2="993.50" stroke-width="1.15" />
<line x1="335.50" y1="972.50" x2="341.50" y2="972.50" stroke-width="1.15" />
<line x1="335.50" y1="993.50" x2="341.50" y2="993.50" stroke-width="1.15" />
<line x1="373.50" y1="1005.50" x2="373.50" y2="1022.50" stroke-width="1.15" />
<line x1="370.50" y1="1005.50" x2="376.50" y2="1005.50" stroke-width="1.15" />
<line x1="370.50" y1="1022.50" x2="376.50" y2="1022.50" stroke-width="1.15" />
<line x1="408.50" y1="1008.50" x2="408.50" y2="1036.50" stroke-width="1.15" />
<line x1="405.50" y1="1008.50" x2="411.50" y2="1008.50" stroke-width="1.15" />
<line x1="405.50" y1="1036.50" x2="411.50" y2="1036.50" stroke-width="1.15" />
<line x1="443.50" y1="1004.50" x2="443.50" y2="1029.50" stroke-width="1.15" />
<line x1="440.50" y1="1004.50" x2="446.50" y2="1004.50" stroke-width="1.15" />
<line x1="440.50" y1="1029.50" x2="446.50" y2="1029.50" stroke-width="1.15" />
<line x1="55.50" y1="860.50" x2="55.50" y2="871.50" stroke-width="1.15" />
<line x1="52.50" y1="860.50" x2="58.50" y2="860.50" stroke-width="1.15" />
<line x1="52.50" y1="871.50" x2="58.50" y2="871.50" stroke-width="1.15" />
<line x1="162.50" y1="868.50" x2="162.50" y2="880.50" stroke-width="1.15" />
<line x1="159.50" y1="868.50" x2="165.50" y2="868.50" stroke-width="1.15" />
<line x1="159.50" y1="880.50" x2="165.50" y2="880.50" stroke-width="1.15" />
<line x1="197.50" y1="906.50" x2="197.50" y2="912.50" stroke-width="1.15" />
<line x1="194.50" y1="906.50" x2="200.50" y2="906.50" stroke-width="1.15" />
<line x1="194.50" y1="912.50" x2="200.50" y2="912.50" stroke-width="1.15" />
<line x1="232.50" y1="933.50" x2="232.50" y2="947.50" stroke-width="1.15" />
<line x1="229.50" y1="933.50" x2="235.50" y2="933.50" stroke-width="1.15" />
<line x1="229.50" y1="947.50" x2="235.50" y2="947.50" stroke-width="1.15" />
<line x1="267.50" y1="939.50" x2="267.50" y2="960.50" stroke-width="1.15" />
<line x1="264.50" y1="939.50" x2="270.50" y2="939.50" stroke-width="1.15" />
<line x1="264.50" y1="960.50" x2="270.50" y2="960.50" stroke-width="1.15" />
<line x1="303.50" y1="951.50" x2="303.50" y2="971.50" stroke-width="1.15" />
<line x1="300.50" y1="951.50" x2="306.50" y2="951.50" stroke-width="1.15" />
<line x1="300.50" y1="971.50" x2="306.50" y2="971.50" stroke-width="1.15" />
<line x1="338.50" y1="972.50" x2="338.50" y2="993.50" stroke-width="1.15" />
<line x1="335.50" y1="972.50" x2="341.50" y2="972.50" stroke-width="1.15" />
<line x1="335.50" y1="993.50" x2="341.50" y2="993.50" stroke-width="1.15" />
<line x1="373.50" y1="999.50" x2="373.50" y2="1019.50" stroke-width="1.15" />
<line x1="370.50" y1="999.50" x2="376.50" y2="999.50" stroke-width="1.15" />
<line x1="370.50" y1="1019.50" x2="376.50" y2="1019.50" stroke-width="1.15" />
<line x1="408.50" y1="1008.50" x2="408.50" y2="1036.50" stroke-width="1.15" />
<line x1="405.50" y1="1008.50" x2="411.50" y2="1008.50" stroke-width="1.15" />
<line x1="405.50" y1="1036.50" x2="411.50" y2="1036.50" stroke-width="1.15" />
<line x1="443.50" y1="1004.50" x2="443.50" y2="1029.50" stroke-width="1.15" />
<line x1="440.50" y1="1004.50" x2="446.50" y2="1004.50" stroke-width="1.15" />
<line x1="440.50" y1="1029.50" x2="446.50" y2="1029.50" stroke-width="1.15" />
<polyline fill="none" stroke-linejoin="round" stroke-width="2.6" points="55.30,807.10 162.30,841.00 197.30,889.00 232.50,907.50 267.80,927.80 303.00,948.00 338.40,982.30 373.50,1015.20 408.90,1022.00 443.80,1016.20"/>
<polyline fill="none" stroke-linejoin="round" stroke-width="2.6" points="55.30,865.50 162.30,873.80 197.30,909.20 232.50,940.80 267.80,950.00 303.00,960.80 338.40,982.30 373.50,1011.70 408.90,1022.00 443.80,1016.20"/>
<line x1="55.30" y1="804.30" x2="55.30" y2="809.90" stroke-width="1.2" />
<line x1="52.50" y1="807.10" x2="58.10" y2="807.10" stroke-width="1.2" />
<line x1="162.30" y1="838.20" x2="162.30" y2="843.80" stroke-width="1.2" />
<line x1="159.50" y1="841.00" x2="165.10" y2="841.00" stroke-width="1.2" />
<line x1="197.30" y1="886.20" x2="197.30" y2="891.80" stroke-width="1.2" />
<line x1="194.50" y1="889.00" x2="200.10" y2="889.00" stroke-width="1.2" />
<line x1="232.50" y1="904.70" x2="232.50" y2="910.30" stroke-width="1.2" />
<line x1="229.70" y1="907.50" x2="235.30" y2="907.50" stroke-width="1.2" />
<line x1="267.80" y1="925.00" x2="267.80" y2="930.60" stroke-width="1.2" />
<line x1="265.00" y1="927.80" x2="270.60" y2="927.80" stroke-width="1.2" />
<line x1="303.00" y1="945.20" x2="303.00" y2="950.80" stroke-width="1.2" />
<line x1="300.20" y1="948.00" x2="305.80" y2="948.00" stroke-width="1.2" />
<line x1="338.40" y1="979.50" x2="338.40" y2="985.10" stroke-width="1.2" />
<line x1="335.60" y1="982.30" x2="341.20" y2="982.30" stroke-width="1.2" />
<line x1="373.50" y1="1012.40" x2="373.50" y2="1018.00" stroke-width="1.2" />
<line x1="370.70" y1="1015.20" x2="376.30" y2="1015.20" stroke-width="1.2" />
<line x1="408.90" y1="1019.20" x2="408.90" y2="1024.80" stroke-width="1.2" />
<line x1="406.10" y1="1022.00" x2="411.70" y2="1022.00" stroke-width="1.2" />
<line x1="443.80" y1="1013.40" x2="443.80" y2="1019.00" stroke-width="1.2" />
<line x1="441.00" y1="1016.20" x2="446.60" y2="1016.20" stroke-width="1.2" />
<circle cx="55.30" cy="865.50" r="3.7" fill="none" stroke-width="1.5"/>
<circle cx="162.30" cy="873.80" r="3.7" fill="none" stroke-width="1.5"/>
<circle cx="197.30" cy="909.20" r="3.7" fill="none" stroke-width="1.5"/>
<circle cx="232.50" cy="940.80" r="3.7" fill="none" stroke-width="1.5"/>
<circle cx="267.80" cy="950.00" r="3.7" fill="none" stroke-width="1.5"/>
<circle cx="303.00" cy="960.80" r="3.7" fill="none" stroke-width="1.5"/>
<circle cx="338.40" cy="982.30" r="3.7" fill="none" stroke-width="1.5"/>
<circle cx="373.50" cy="1011.70" r="3.7" fill="none" stroke-width="1.5"/>
<circle cx="408.90" cy="1022.00" r="3.7" fill="none" stroke-width="1.5"/>
<circle cx="443.80" cy="1016.20" r="3.7" fill="none" stroke-width="1.5"/>
<line x1="275.00" y1="750.00" x2="295.50" y2="750.00" stroke-width="2.4" />
<line x1="275.00" y1="769.60" x2="295.50" y2="769.60" stroke-width="2.4" />
<line x1="285.25" y1="746.30" x2="285.25" y2="753.70" stroke-width="1.4" />
<line x1="281.55" y1="750.00" x2="288.95" y2="750.00" stroke-width="1.4" />
<circle cx="285.25" cy="769.60" r="3.0" fill="none" stroke-width="1.4"/>
</g>
<g>
<text x="34.70" y="8.80" font-size="12.30" textLength="17.10" lengthAdjust="spacingAndGlyphs" >1.2</text>
<text x="44.96" y="51.60" font-size="12.30" textLength="6.84" lengthAdjust="spacingAndGlyphs" >1</text>
<text x="34.70" y="93.10" font-size="12.30" textLength="17.10" lengthAdjust="spacingAndGlyphs" >0.8</text>
<text x="34.70" y="134.60" font-size="12.30" textLength="17.10" lengthAdjust="spacingAndGlyphs" >0.6</text>
<text x="34.70" y="176.10" font-size="12.30" textLength="17.10" lengthAdjust="spacingAndGlyphs" >0.4</text>
<text x="34.70" y="217.60" font-size="12.30" textLength="17.10" lengthAdjust="spacingAndGlyphs" >0.2</text>
<text x="44.96" y="259.10" font-size="12.30" textLength="6.84" lengthAdjust="spacingAndGlyphs" >0</text>
<text x="30.61" y="300.60" font-size="12.30" textLength="21.19" lengthAdjust="spacingAndGlyphs" >-0.2</text>
<text x="53.85" y="317.90" font-size="12.30" textLength="17.10" lengthAdjust="spacingAndGlyphs" >0.1</text>
<text x="206.28" y="317.90" font-size="12.30" textLength="6.84" lengthAdjust="spacingAndGlyphs" >1</text>
<text x="350.16" y="317.90" font-size="12.30" textLength="13.68" lengthAdjust="spacingAndGlyphs" >10</text>
<text x="494.04" y="317.90" font-size="12.30" textLength="20.52" lengthAdjust="spacingAndGlyphs" >100</text>
<text x="-0.40" y="19.70" font-size="29.43" textLength="19.50" lengthAdjust="spacingAndGlyphs" style="stroke-width:0.9px">A</text>
<text x="168.30" y="343.30" font-size="16.02" textLength="230.20" lengthAdjust="spacingAndGlyphs" >Alexidine Dihydrochloride (µM)</text>
<text transform="translate(20.9,237.5) rotate(-90)" font-size="16.02" textLength="174.50" lengthAdjust="spacingAndGlyphs">Fraction of Cell Viability</text>
<text x="319.30" y="12.20" font-size="16.02" textLength="68.73" lengthAdjust="spacingAndGlyphs" >AD Alone</text>
<text x="319.30" y="30.90" font-size="16.02" textLength="167.30" lengthAdjust="spacingAndGlyphs" >AD + Cisplatin (1.9 µM)</text>
<text x="319.30" y="49.50" font-size="16.02" textLength="192.30" lengthAdjust="spacingAndGlyphs" >AD + 5-Fluorouracil (5 µM)</text>
<text x="319.30" y="67.90" font-size="16.02" textLength="116.50" lengthAdjust="spacingAndGlyphs" >AD + RT (10 Gy)</text>
<text x="27.20" y="381.10" font-size="12.30" textLength="17.10" lengthAdjust="spacingAndGlyphs" >1.2</text>
<text x="37.46" y="423.60" font-size="12.30" textLength="6.84" lengthAdjust="spacingAndGlyphs" >1</text>
<text x="27.20" y="466.10" font-size="12.30" textLength="17.10" lengthAdjust="spacingAndGlyphs" >0.8</text>
<text x="27.20" y="508.60" font-size="12.30" textLength="17.10" lengthAdjust="spacingAndGlyphs" >0.6</text>
<text x="27.20" y="551.10" font-size="12.30" textLength="17.10" lengthAdjust="spacingAndGlyphs" >0.4</text>
<text x="27.20" y="593.60" font-size="12.30" textLength="17.10" lengthAdjust="spacingAndGlyphs" >0.2</text>
<text x="37.46" y="636.10" font-size="12.30" textLength="6.84" lengthAdjust="spacingAndGlyphs" >0</text>
<text x="23.11" y="678.60" font-size="12.30" textLength="21.19" lengthAdjust="spacingAndGlyphs" >-0.2</text>
<text x="46.85" y="696.40" font-size="12.30" textLength="17.10" lengthAdjust="spacingAndGlyphs" >0.1</text>
<text x="203.38" y="696.40" font-size="12.30" textLength="6.84" lengthAdjust="spacingAndGlyphs" >1</text>
<text x="351.36" y="696.40" font-size="12.30" textLength="13.68" lengthAdjust="spacingAndGlyphs" >10</text>
<text x="499.34" y="696.40" font-size="12.30" textLength="20.52" lengthAdjust="spacingAndGlyphs" >100</text>
<text x="0.60" y="390.60" font-size="26.11" textLength="17.62" lengthAdjust="spacingAndGlyphs" style="stroke-width:0.8px">B</text>
<text x="231.00" y="715.00" font-size="16.02" textLength="102.40" lengthAdjust="spacingAndGlyphs" >Cisplatin (µM)</text>
<text transform="translate(20.4,641) rotate(-90)" font-size="16.02" textLength="216.50" lengthAdjust="spacingAndGlyphs">Fraction of FaDu Cell Viability</text>
<text x="338.00" y="382.00" font-size="16.02" textLength="111.00" lengthAdjust="spacingAndGlyphs" >Cisplatin Alone</text>
<text x="338.00" y="400.70" font-size="16.02" textLength="168.00" lengthAdjust="spacingAndGlyphs" >Cisplatin + AD (1.2 µM)</text>
<text x="27.70" y="753.50" font-size="12.30" textLength="17.10" lengthAdjust="spacingAndGlyphs" >1.2</text>
<text x="37.96" y="812.10" font-size="12.30" textLength="6.84" lengthAdjust="spacingAndGlyphs" >1</text>
<text x="27.70" y="870.70" font-size="12.30" textLength="17.10" lengthAdjust="spacingAndGlyphs" >0.8</text>
<text x="27.70" y="929.30" font-size="12.30" textLength="17.10" lengthAdjust="spacingAndGlyphs" >0.6</text>
<text x="27.70" y="987.90" font-size="12.30" textLength="17.10" lengthAdjust="spacingAndGlyphs" >0.4</text>
<text x="27.70" y="1046.50" font-size="12.30" textLength="17.10" lengthAdjust="spacingAndGlyphs" >0.2</text>
<text x="46.85" y="1064.40" font-size="12.30" textLength="17.10" lengthAdjust="spacingAndGlyphs" >0.1</text>
<text x="125.86" y="1064.40" font-size="12.30" textLength="6.84" lengthAdjust="spacingAndGlyphs" >1</text>
<text x="196.32" y="1064.40" font-size="12.30" textLength="13.68" lengthAdjust="spacingAndGlyphs" >10</text>
<text x="266.78" y="1064.40" font-size="12.30" textLength="20.52" lengthAdjust="spacingAndGlyphs" >100</text>
<text x="337.24" y="1064.40" font-size="12.30" textLength="27.36" lengthAdjust="spacingAndGlyphs" >1000</text>
<text x="407.70" y="1064.40" font-size="12.30" textLength="34.20" lengthAdjust="spacingAndGlyphs" >10000</text>
<text x="478.16" y="1064.40" font-size="12.30" textLength="41.04" lengthAdjust="spacingAndGlyphs" >100000</text>
<text x="0.50" y="762.60" font-size="27.53" textLength="17.91" lengthAdjust="spacingAndGlyphs" style="stroke-width:0.8px">C</text>
<text x="207.75" y="1085.00" font-size="16.02" textLength="138.50" lengthAdjust="spacingAndGlyphs" >5-Fluorouracil (µM)</text>
<text transform="translate(20.4,1006.5) rotate(-90)" font-size="16.02" textLength="216.50" lengthAdjust="spacingAndGlyphs">Fraction of FaDu Cell Viability</text>
<text x="298.80" y="755.90" font-size="16.02" textLength="150.00" lengthAdjust="spacingAndGlyphs" >5-Fluorouracil Alone</text>
<text x="298.80" y="775.50" font-size="16.02" textLength="205.70" lengthAdjust="spacingAndGlyphs" >5-Fluorouracil + AD (1.2 µM)</text>
</g>
</svg>
</body></html>
